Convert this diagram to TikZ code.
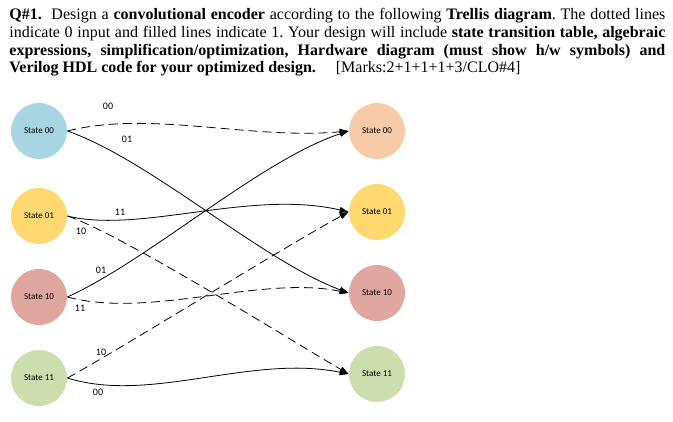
\documentclass[tikz,border=0pt]{standalone}
\usepackage{fontspec}
\setmainfont{Liberation Serif}
\newfontfamily\statefont{Carlito}
\usetikzlibrary{arrows.meta,shapes,positioning}

\definecolor{leftzz}{HTML}{A8D5E2}
\definecolor{rightzz}{HTML}{F8CBA8}
\definecolor{zo}{HTML}{FFD970}
\definecolor{oz}{HTML}{E0A7A0}
\definecolor{oo}{HTML}{CCDDAE}

\tikzset{
  state/.style={circle, minimum size=56pt, inner sep=0pt, font=\statefont\fontsize{9}{10}\selectfont},
  zero/.style={->, dash pattern=on 9pt off 5pt},
  one/.style={->},
  bits/.style={font=\statefont\fontsize{10}{12}\selectfont}
}

\begin{document}
\begin{tikzpicture}[x=1pt, y=-1pt, node distance=81pt, line width=0.8pt, >={Triangle[length=9pt,width=6pt]}]
  \useasboundingbox (0,0) rectangle (673,421);
  \node [anchor=north west, text width=656pt, align=justify, inner sep=0pt, font=\frenchspacing\fontsize{16}{17.7}\selectfont] (question) at (9,8)
    {\textbf{Q\#1.}\ \ Design a \textbf{convolutional encoder} according to the following \textbf{Trellis diagram}. The dotted lines\linebreak
     indicate 0 input and filled lines indicate 1. Your design will include \textbf{state transition table, algebraic\linebreak
     expressions, simplification/optimization, Hardware diagram (must show h/w symbols) and\linebreak
     Verilog HDL code for your optimized design.}\quad\ [Marks:2+1+1+1+3/CLO\#4]};

  % left column
  \node [state, fill=leftzz] (L00) at (39,131) {State 00};
  \node [state, fill=zo, below of=L00, node distance=85pt] (L01) {State 01};
  \node [state, fill=oz, below of=L01] (L10) {State 10};
  \node [state, fill=oo, below of=L10] (L11) {State 11};

  % right column
  \node [state, fill=rightzz, right of=L00, node distance=338pt] (R00) {State 00};
  \node [state, fill=zo, below of=R00] (R01) {State 01};
  \node [state, fill=oz, below of=R01] (R10) {State 10};
  \node [state, fill=oo, below of=R10] (R11) {State 11};

  \draw [zero] (L00.east) .. controls +(83,-21) and +(-98,9) .. (R00.west);
  \draw [one] (L00.east) .. controls +(83,29) and +(-88,-33) .. (R10.west);
  \draw [one] (L01.east) .. controls +(73,18) and +(-98,-23) .. (R01.west);
  \draw [zero] (L01.east) .. controls +(53,18) and +(-68,-40) .. (R11.west);
  \draw [one] (L10.east) .. controls +(83,-38) and +(-88,29) .. (R00.west);
  \draw [zero] (L10.east) .. controls +(83,22) and +(-88,-18) .. (R10.west);
  \draw [zero] (L11.east) .. controls +(53,-29) and +(-68,37) .. (R01.west);
  \draw [one] (L11.east) .. controls +(83,26) and +(-98,-20) .. (R11.west);

  \node [bits] (out00a) at (108,106) {00};
  \node [bits] (out01a) at (127,139) {01};
  \node [bits] (out11a) at (120,212) {11};
  \node [bits] (out10a) at (81,231) {10};
  \node [bits] (out01b) at (101,270) {01};
  \node [bits] (out11b) at (80,308) {11};
  \node [bits] (out10b) at (101,352) {10};
  \node [bits] (out00b) at (98,392) {00};
\end{tikzpicture}
\end{document}
